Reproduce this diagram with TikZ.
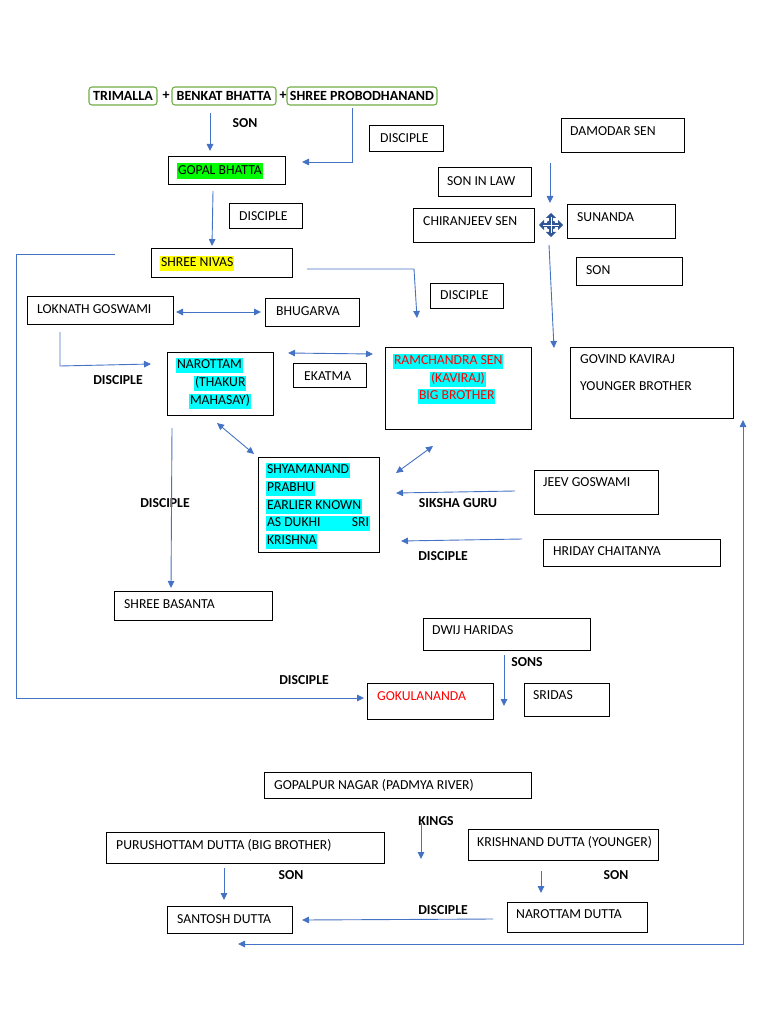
\documentclass[tikz,border=0pt]{standalone}
\usepackage{fontspec}
\setmainfont{Carlito}
\usetikzlibrary{arrows.meta}
\definecolor{ablue}{HTML}{4472C4}
\definecolor{tgreen}{HTML}{70AD47}
\definecolor{hgreen}{HTML}{00FF00}
\definecolor{hyellow}{HTML}{FFFF00}
\definecolor{hcyan}{HTML}{00FFFF}
\definecolor{tred}{HTML}{FF0000}
\definecolor{iconblue}{HTML}{2F5597}
\begin{document}
\begin{tikzpicture}[x=1pt,y=-1pt,
  font=\fontsize{13.7}{16}\selectfont,
  box/.style={draw=black, line width=0.9pt, anchor=north west, inner sep=0},
  tx/.style={anchor=base west, inner sep=0},
  lb/.style={anchor=base, inner sep=0, font=\fontsize{13.7}{16}\selectfont\bfseries},
  hl/.style={anchor=base west, inner sep=0.8pt, text height=10.2pt, text depth=3.6pt},
  tip/.tip={Triangle[length=7pt,width=6.5pt]},
  arr/.style={draw=ablue, line width=0.9pt, -tip},
  darr/.style={draw=ablue, line width=0.9pt, tip-tip},
  topbox/.style={draw=tgreen, line width=1.1pt, rounded corners=3pt, inner sep=0,
    minimum height=18pt, font=\fontsize{14}{16}\selectfont\bfseries}]
\useasboundingbox (0,0) rectangle (768,1024);

% ---------- top row ----------
\node[topbox, minimum width=68pt] (trimalla) at (123,96) {TRIMALLA};
\node[inner sep=0, font=\fontsize{14}{16}\selectfont\bfseries] (plus1) at (166,96) {+};
\node[topbox, minimum width=104pt] (benkat) at (224,96) {BENKAT BHATTA};
\node[inner sep=0, font=\fontsize{14}{16}\selectfont\bfseries] (plus2) at (283,96) {+};
\node[topbox, minimum width=150pt] (probodh) at (362,96) {SHREE PROBODHANAND};
\node[lb] (lson1) at (245,128) {SON};

% ---------- boxes ----------
\node[box, minimum width=117pt, minimum height=28pt] (gopal) at (168,156) {};
\node[hl, fill=hgreen] (tgopal) at (177,174.5) {GOPAL BHATTA};

\node[box, minimum width=74pt, minimum height=26pt] (disc1) at (369,125) {};
\node[tx] (tdisc1) at (380,142.5) {DISCIPLE};

\node[box, minimum width=123pt, minimum height=34pt] (damodar) at (561,118) {};
\node[tx] (tdamodar) at (570,135.5) {DAMODAR SEN};

\node[box, minimum width=93pt, minimum height=29pt] (soninlaw) at (438,167) {};
\node[tx] (tsoninlaw) at (447,185.5) {SON IN LAW};

\node[box, minimum width=121pt, minimum height=34pt] (chiran) at (413,208) {};
\node[tx] (tchiran) at (423,225.5) {CHIRANJEEV SEN};

\node[box, minimum width=108pt, minimum height=34pt] (sunanda) at (567,204) {};
\node[tx] (tsunanda) at (577,221.5) {SUNANDA};

\node[box, minimum width=106pt, minimum height=28pt] (son2) at (576,257) {};
\node[tx] (tson2) at (586,274.5) {SON};

\node[box, minimum width=73pt, minimum height=25pt] (disc2) at (229,203) {};
\node[tx] (tdisc2) at (239,220.5) {DISCIPLE};

\node[box, minimum width=141pt, minimum height=29pt] (nivas) at (151,248) {};
\node[hl, fill=hyellow] (tnivas) at (160,266.5) {SHREE NIVAS};

\node[box, minimum width=73pt, minimum height=25pt] (disc3) at (430,283) {};
\node[tx] (tdisc3) at (440,299.5) {DISCIPLE};

\node[box, minimum width=146pt, minimum height=28pt] (loknath) at (27,296) {};
\node[tx] (tloknath) at (37,313.5) {LOKNATH GOSWAMI};

\node[box, minimum width=94pt, minimum height=28pt] (bhugarva) at (265,298) {};
\node[tx] (tbhugarva) at (276,315.5) {BHUGARVA};

\node[lb] (ldisc1) at (118,384.5) {DISCIPLE};

\node[box, minimum width=106pt, minimum height=63pt] (narottam) at (167,352) {};
\node[hl, fill=hcyan] (tnar1) at (176,368.5) {NAROTTAM};
\node[hl, fill=hcyan] (tnar2) at (194,386.5) {(THAKUR};
\node[hl, fill=hcyan] (tnar3) at (189,404.5) {MAHASAY)};

\node[box, minimum width=73pt, minimum height=24pt] (ekatma) at (293,363) {};
\node[tx] (tekatma) at (304,380.5) {EKATMA};

\node[box, minimum width=146pt, minimum height=82pt] (ramchandra) at (385,347) {};
\node[hl, fill=hcyan, text=tred] (tram1) at (393,364.5) {RAMCHANDRA SEN};
\node[hl, fill=hcyan, text=tred] (tram2) at (430,382.5) {(KAVIRAJ)};
\node[hl, fill=hcyan, text=tred] (tram3) at (418,399.5) {BIG BROTHER};

\node[box, minimum width=163pt, minimum height=71pt] (govind) at (570,347) {};
\node[tx] (tgovind1) at (580,363.5) {GOVIND KAVIRAJ};
\node[tx] (tgovind2) at (580,390.5) {YOUNGER BROTHER};

\node[lb] (ldisc2) at (165,507.5) {DISCIPLE};

\node[box, minimum width=121pt, minimum height=95pt] (shyam) at (258,457) {};
\node[hl, fill=hcyan] (tsh1) at (266,473.5) {SHYAMANAND};
\node[hl, fill=hcyan] (tsh2) at (266,491.5) {PRABHU};
\node[hl, fill=hcyan] (tsh3) at (266,509.5) {EARLIER KNOWN};
\node[hl, fill=hcyan] (tsh4) at (266,526.5) {\makebox[102pt][s]{AS DUKHI\hfill SRI}};
\node[hl, fill=hcyan] (tsh5) at (266,544.5) {KRISHNA};

\node[box, minimum width=124pt, minimum height=44pt] (jeev) at (534,470) {};
\node[tx] (tjeev) at (543,486.5) {JEEV GOSWAMI};
\node[lb] (lsiksha) at (458,507.5) {SIKSHA GURU};

\node[box, minimum width=177pt, minimum height=27pt] (hriday) at (543,539) {};
\node[tx] (thriday) at (553,555.5) {HRIDAY CHAITANYA};
\node[lb] (ldisc3) at (443,560.5) {DISCIPLE};

\node[box, minimum width=158pt, minimum height=29pt] (basanta) at (114,591) {};
\node[tx] (tbasanta) at (124,608.5) {SHREE BASANTA};

\node[box, minimum width=167pt, minimum height=32pt] (dwij) at (423,618) {};
\node[tx] (tdwij) at (432,634.5) {DWIJ HARIDAS};
\node[lb] (lsons) at (527,666.5) {SONS};

\node[lb] (ldisc4) at (304,684.5) {DISCIPLE};
\node[box, minimum width=126pt, minimum height=36pt] (gokul) at (367,683) {};
\node[tx, text=tred] (tgokul) at (377,700.5) {GOKULANANDA};

\node[box, minimum width=85pt, minimum height=33pt] (sridas) at (524,683) {};
\node[tx] (tsridas) at (533,699.5) {SRIDAS};

\node[box, minimum width=267pt, minimum height=26pt] (gopalpur) at (264,772) {};
\node[tx] (tgopalpur) at (274,789.5) {GOPALPUR NAGAR (PADMYA RIVER)};
\node[lb] (lkings) at (436,825.5) {KINGS};

\node[box, minimum width=278pt, minimum height=31pt] (purush) at (106,832) {};
\node[tx] (tpurush) at (116,849.5) {PURUSHOTTAM DUTTA (BIG BROTHER)};

\node[box, minimum width=190pt, minimum height=31pt] (krishnand) at (468,829) {};
\node[tx] (tkrishnand) at (477,846.5) {KRISHNAND DUTTA (YOUNGER)};

\node[lb] (lson3) at (291,879.5) {SON};
\node[lb] (lson4) at (616,879.5) {SON};

\node[box, minimum width=125pt, minimum height=27pt] (santosh) at (167,906) {};
\node[tx] (tsantosh) at (177,923.5) {SANTOSH DUTTA};
\node[lb] (ldisc5) at (443,914.5) {DISCIPLE};

\node[box, minimum width=140pt, minimum height=30pt] (nardutta) at (507,902) {};
\node[tx] (tnardutta) at (516,918.5) {NAROTTAM DUTTA};

% ---------- move icon ----------
\begin{scope}[shift={(551,225)}]
  \draw[iconblue, line width=3.6pt, {Triangle[length=5pt,width=10pt]}-{Triangle[length=5pt,width=10pt]}] (-12,0) -- (12,0);
  \draw[iconblue, line width=3.6pt, {Triangle[length=5pt,width=10pt]}-{Triangle[length=5pt,width=10pt]}] (0,-12) -- (0,12);
  \fill[iconblue] (0,0) circle (5pt);
  \draw[white, line width=0.7pt] (-8,0) -- (8,0) (0,-8) -- (0,8);
\end{scope}

% ---------- connector end points ----------
\coordinate (c1a) at (210,113); \coordinate (c1b) at (210,151);
\coordinate (c2a) at (352,108); \coordinate (c2b) at (302,162);
\coordinate (c3a) at (213,191); \coordinate (c3b) at (212,246);
\coordinate (c4a) at (550,163); \coordinate (c4b) at (550,203);
\coordinate (c5a) at (549,245); \coordinate (c5b) at (554,348);
\coordinate (c6a) at (115,254); \coordinate (c6b) at (364,698);
\coordinate (c7a) at (307,269); \coordinate (c7m) at (414,269); \coordinate (c7b) at (417,318);
\coordinate (c8a) at (176,312); \coordinate (c8b) at (261,312);
\coordinate (c9a) at (60,332); \coordinate (c9b) at (151,364);
\coordinate (c10a) at (288,353); \coordinate (c10b) at (373,354);
\coordinate (c11a) at (217,423); \coordinate (c11b) at (254,454);
\coordinate (c12a) at (396,473); \coordinate (c12b) at (433,446);
\coordinate (c13a) at (172,428); \coordinate (c13b) at (171,588);
\coordinate (c14a) at (515,491); \coordinate (c14b) at (396,493);
\coordinate (c15a) at (522,539); \coordinate (c15b) at (401,541);
\coordinate (c16a) at (504,655); \coordinate (c16b) at (504,706);
\coordinate (c17a) at (421,823); \coordinate (c17b) at (421,859);
\coordinate (c18a) at (224,868); \coordinate (c18b) at (224,900);
\coordinate (c19a) at (541,871); \coordinate (c19b) at (541,893);
\coordinate (c20a) at (493,919); \coordinate (c20b) at (302,920);
\coordinate (c21a) at (238,944); \coordinate (c21b) at (743,420);

% ---------- connectors ----------
\draw[arr] (c1a) -- (c1b);
\draw[arr] (c2a) |- (c2b);
\draw[arr] (c3a) -- (c3b);
\draw[arr] (c4a) -- (c4b);
\draw[arr] (c5a) -- (c5b);
\draw[arr] (c6a) -- (16,254) -- (16,698) -- (c6b);
\draw[arr] (c7a) -- (c7m) -- (c7b);
\draw[darr] (c8a) -- (c8b);
\draw[arr] (c9a) -- (60,366) -- (c9b);
\draw[darr] (c10a) -- (c10b);
\draw[darr] (c11a) -- (c11b);
\draw[darr] (c12a) -- (c12b);
\draw[arr] (c13a) -- (c13b);
\draw[arr] (c14a) -- (c14b);
\draw[arr] (c15a) -- (c15b);
\draw[arr] (c16a) -- (c16b);
\draw[arr] (c17a) -- (c17b);
\draw[arr] (c18a) -- (c18b);
\draw[arr] (c19a) -- (c19b);
\draw[arr] (c20a) -- (c20b);
\draw[darr] (c21a) -- (743,944) -- (c21b);
\end{tikzpicture}
\end{document}
